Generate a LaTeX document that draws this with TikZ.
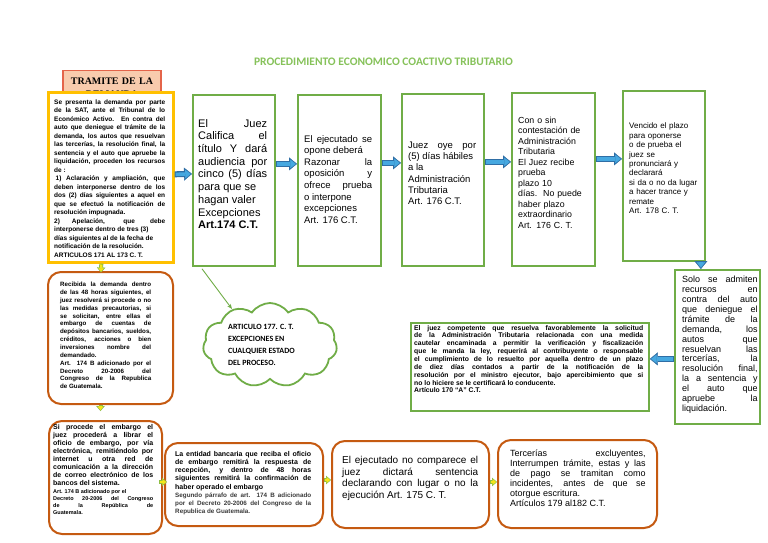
\documentclass[tikz,border=0pt]{standalone}
\usepackage{fontspec}
\setmainfont{Liberation Sans}
\newfontfamily\tnr{Liberation Serif}
\newfontfamily\carl{Carlito}
\usetikzlibrary{shapes.symbols,arrows.meta}
\definecolor{boxgreen}{HTML}{70AD47}
\definecolor{titlegreen}{HTML}{86C25A}
\definecolor{gold}{HTML}{FFC000}
\definecolor{salmonfill}{HTML}{F8CBAD}
\definecolor{salmonline}{HTML}{E4644A}
\definecolor{boxorange}{HTML}{C55A11}
\definecolor{arrdark}{HTML}{2F6EA5}
\definecolor{arrlight}{HTML}{46A8E0}
\definecolor{tinyfill}{HTML}{F4E61A}
\definecolor{tinyline}{HTML}{8DBE45}
\definecolor{graytext}{HTML}{3A3A3A}
\hyphenpenalty=10000
\exhyphenpenalty=10000
\tolerance=10000
\hbadness=10000
\hfuzz=6pt
\setlength{\parindent}{0pt}
\newcommand\fsz[2]{\fontsize{#1}{#2}\selectfont}
\tikzset{
  grect/.style={draw=boxgreen, line width=1.8pt, fill=white, anchor=north west, inner sep=0pt},
  orect/.style={draw=boxorange, line width=2pt, rounded corners=13pt, fill=white, anchor=north west, inner sep=0pt},
  txt/.style={anchor=north west, inner sep=0pt, align=justify},
  ltxt/.style={anchor=north west, inner sep=0pt, align=left},
  bout/.style={draw=arrdark, line width=6pt, -{Triangle[length=8pt,width=13pt,line width=0.3pt]}},
  bin/.style={draw=arrlight, line width=3.4pt, -{Triangle[length=5.6pt,width=8.6pt,line width=0.3pt]}, shorten >=1.3pt, shorten <=1.1pt},
  tout/.style={draw=tinyline, line width=4pt, -{Triangle[length=5pt,width=8.5pt,line width=0.3pt]}},
  tin/.style={draw=tinyfill, line width=2.2pt, -{Triangle[length=3.4pt,width=5.4pt,line width=0.3pt]}, shorten >=0.9pt, shorten <=0.9pt}
}
\newcommand\bluearrow[2]{\draw[bout] #1 -- #2; \draw[bin] #1 -- #2;}
\newcommand\tinyarrow[2]{\draw[tout] #1 -- #2; \draw[tin] #1 -- #2;}
\begin{document}
\begin{tikzpicture}[x=1pt,y=-1pt]
\useasboundingbox (0,0) rectangle (768,543);
\fill[white] (0,0) rectangle (768,543);

% title
\node[font=\carl\bfseries\fsz{11.5}{13}, text=titlegreen, inner sep=0pt] (title) at (383.5,62) {PROCEDIMIENTO ECONOMICO COACTIVO TRIBUTARIO};

% tramite label (partly hidden)
\node[draw=salmonline, line width=1.2pt, fill=salmonfill, anchor=north, minimum width=98pt, text width=90pt, inner xsep=4pt, inner ysep=7pt, align=center, font=\tnr\bfseries\fsz{10}{13.2}] (tr) at (112,70) {TRAMITE DE LA\\DEMANDA};

% yellow box
\node[draw=gold, line width=2.6pt, fill=white, anchor=north west, minimum width=125pt, minimum height=170pt, inner sep=0pt] (yb) at (47,91) {};
\node[txt, text width=111pt, font=\bfseries\fsz{6.5}{8.5}] (ybt) at (54,99.5) {Se presenta la demanda por parte\linebreak de la SAT, ante el Tribunal de lo\linebreak Económico Activo. En contra del\linebreak auto que deniegue el trámite de la\linebreak demanda, los autos que resuelvan\linebreak las tercerías, la resolución final, la\linebreak sentencia y el auto que apruebe la\linebreak liquidación, proceden los recursos\linebreak de :\\ \hspace*{1.5pt}1) Aclaración y ampliación, que\linebreak deben interponerse dentro de los\linebreak dos (2) días siguientes a aquel en\linebreak que se efectuó la notificación de\linebreak resolución impugnada.\\ 2)\hspace{12pt}Apelación, que debe\linebreak interponerse dentro de tres (3)\\ días siguientes al de la fecha de\\ notificación de la resolución.\\ ARTICULOS 171 AL 173 C. T.\par};

% top row boxes
\node[grect, minimum width=82pt, minimum height=171pt] (b1) at (192,94) {};
\node[grect, minimum width=83pt, minimum height=171pt] (b2) at (297,94) {};
\node[grect, minimum width=82pt, minimum height=172pt] (b3) at (401,93) {};
\node[grect, minimum width=83pt, minimum height=173pt] (b4) at (511,92) {};
\node[grect, minimum width=82pt, minimum height=170pt] (b5) at (622,90) {};
\node[grect, minimum width=85pt, minimum height=154pt] (b6) at (674,269) {};
\node[grect, minimum width=238pt, minimum height=88pt] (tb) at (410,322) {};

\node[txt, text width=69pt, font=\fsz{11}{12.7}] (b1t) at (198,119) {El Juez\linebreak Califica el\linebreak título Y dará\linebreak audiencia por\linebreak cinco (5) días\linebreak para que se\\ hagan valer\\ Excepciones\\ \textbf{Art.174 C.T.}\par};
\node[txt, text width=68pt, font=\fsz{9.5}{11.6}] (b2t) at (304,135) {El ejecutado se\linebreak opone deberá\\ Razonar la\linebreak oposición y\linebreak ofrece prueba\linebreak o interpone\\ excepciones\\ Art. 176 C.T.\par};
\node[txt, text width=68pt, font=\fsz{9.5}{11.3}] (b3t) at (408,141.5) {Juez oye por\linebreak (5) días hábiles\\ a la\\ Administración\\ Tributaria\\ Art. 176 C.T.\par};
\node[ltxt, text width=72pt, font=\fsz{8.8}{10.5}] (b4t) at (518,116.5) {Con o sin\\ contestación de\\ Administración\\ Tributaria\\ El Juez recibe\\ prueba\\ plazo 10\\ días.\ \ No puede\\ haber plazo\\ extraordinario\\ Art. 176 C. T.\par};
\node[ltxt, text width=72pt, font=\fsz{8}{9.4}] (b5t) at (629,123) {Vencido el plazo\\ para oponerse\\ o de prueba el\\ juez se\\ pronunciará y\\ declarará\\ si da o no da lugar\\ a hacer trance y\\ remate\\ Art. 178 C. T.\par};
\node[txt, text width=75.5pt, font=\fsz{9}{9.9}] (b6t) at (682,276) {Solo se admiten\linebreak recursos en\linebreak contra del auto\linebreak que deniegue el\linebreak trámite de la\linebreak demanda, los\linebreak autos que\linebreak resuelvan las\linebreak tercerías, la\linebreak resolución final,\linebreak la a sentencia y\linebreak el auto que\linebreak apruebe la\linebreak liquidación.\par};
\node[txt, text width=229pt, font=\bfseries\fsz{6.8}{7.85}] (tbt) at (414,325) {El juez competente que resuelva favorablemente la solicitud\linebreak de la Administración Tributaria relacionada con una medida\linebreak cautelar encaminada a permitir la verificación y fiscalización\linebreak que le manda la ley, requerirá al contribuyente o responsable\linebreak el cumplimiento de lo resuelto por aquella dentro de un plazo\linebreak de diez días contados a partir de la notificación de la\linebreak resolución por el ministro ejecutor, bajo apercibimiento que si\linebreak no lo hiciere se le certificará lo conducente.\\ Artículo 170 “A” C.T.\par};

% left column and bottom rounded boxes
\node[orect, minimum width=125pt, minimum height=132pt] (L1) at (47,271) {};
\node[orect, minimum width=113pt, minimum height=113pt] (L2) at (48,420) {};
\node[orect, minimum width=158pt, minimum height=83pt] (B1) at (164,442) {};
\node[orect, minimum width=157pt, minimum height=87pt] (B2) at (331,440) {};
\node[orect, minimum width=159pt, minimum height=88pt] (B3) at (497,439) {};

\node[txt, text width=91pt, font=\bfseries\fsz{6.2}{7.85}] (L1t) at (60,282) {Recibida la demanda dentro\linebreak de las 48 horas siguientes, el\linebreak juez resolverá si procede o no\linebreak las medidas precautorias, si\linebreak se solicitan, entre ellas el\linebreak embargo de cuentas de\linebreak depósitos bancarios, sueldos,\linebreak créditos, acciones o bien\linebreak inversiones nombre del\linebreak demandado.\\ Art. 174 B adicionado por el\linebreak Decreto 20-2006 del\linebreak Congreso de la Republica\linebreak de Guatemala.\par};
\node[txt, text width=100pt, font=\bfseries] (L2t) at (53,424) {\fsz{7}{8.1}Si procede el embargo el\linebreak juez procederá a librar el\linebreak oficio de embargo, por vía\linebreak electrónica, remitiéndolo por\linebreak internet u otra red de\linebreak comunicación a la dirección\linebreak de correo electrónico de los\linebreak bancos del sistema.\par\fsz{5.5}{7.2}Art. 174 B adicionado por el\\ Decreto 20-2006 del Congreso\linebreak de la República de\linebreak Guatemala.\par};
\node[txt, text width=136pt, font=\bfseries] (B1t) at (175,451) {\fsz{7}{8.2}La entidad bancaria que reciba el oficio\linebreak de embargo remitirá la respuesta de\linebreak recepción, y dentro de 48 horas\linebreak siguientes remitirá la confirmación de\linebreak haber operado el embargo\par\color{graytext}\fsz{6.3}{8.2}Segundo párrafo de art. 174 B adicionado\linebreak por el Decreto 20-2006 del Congreso de la\linebreak Republica de Guatemala.\par};
\node[txt, text width=136pt, font=\fsz{10}{11.7}] (B2t) at (342,456) {El ejecutado no comparece el\linebreak juez dictará sentencia\linebreak declarando con lugar o no la\linebreak ejecución Art. 175 C. T.\par};
\node[txt, text width=135.5pt, font=\fsz{9}{10}] (B3t) at (510,449.5) {Tercerías excluyentes,\linebreak Interrumpen trámite, estas y las\linebreak de pago se tramitan como\linebreak incidentes, antes de que se\linebreak otorgue escritura.\\ Artículos 179 al182 C.T.\par};

% cloud
\draw[boxgreen, line width=0.9pt, -{Stealth[length=5pt,width=4pt]}] ([xshift=10pt,yshift=-2pt]b1.south west) -- (270-38,345-36);
\node[cloud, cloud puffs=11, cloud puff arc=110, cloud ignores aspect, draw=boxgreen, line width=1.8pt, fill=white, minimum width=134pt, minimum height=84pt, inner sep=0pt] (cl) at (270,345) {};
\node[ltxt, font=\carl\bfseries\fsz{8}{12}] (clt) at (228,324) {ARTICULO 177. C. T.\\ EXCEPCIONES EN\\ CUALQUIER ESTADO\\ DEL PROCESO.\par};

% blue arrows
\bluearrow{([yshift=3pt]yb.east)}{([yshift=6.5pt]b1.west)}
\bluearrow{([yshift=16.5pt]b1.east)}{([yshift=16.5pt]b2.west)}
\bluearrow{([yshift=17.5pt]b2.east)}{([yshift=17pt]b3.west)}
\bluearrow{([yshift=18pt]b3.east)}{([yshift=17.5pt]b4.west)}
\bluearrow{([yshift=20.5pt]b4.east)}{([yshift=17pt]b5.west)}
\bluearrow{([xshift=37pt]b5.south)}{([xshift=-16.5pt]b6.north)}
\bluearrow{([yshift=-12pt]b6.west)}{([yshift=8pt]tb.east)}

% small yellow arrows
\tinyarrow{([xshift=-9.5pt]yb.south)}{([xshift=-9.5pt,yshift=-1.5pt]L1.north)}
\tinyarrow{([xshift=-10pt]L1.south)}{([xshift=-5pt,yshift=9pt]L2.north)}
\tinyarrow{([xshift=-4pt,yshift=-4.5pt]L2.east)}{([xshift=3pt,yshift=2.5pt]B1.west)}
\tinyarrow{([yshift=4.5pt]B1.east)}{([yshift=4.5pt]B2.west)}
\tinyarrow{([yshift=2.5pt]B2.east)}{([yshift=2pt]B3.west)}
\end{tikzpicture}
\end{document}
